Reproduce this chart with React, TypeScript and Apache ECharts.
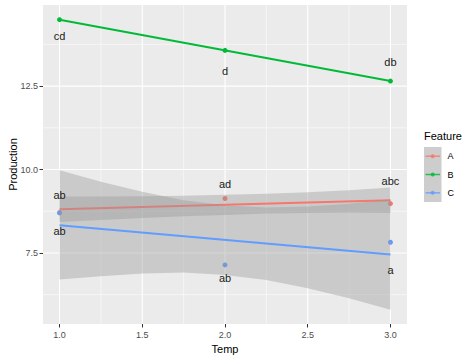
import React, { useEffect, useRef } from "react";
import * as echarts from "echarts";

// ---- data ----
const features = ["A", "B", "C"];
const featureColors = ["#F8766D", "#00BA38", "#619CFF"];
const temps = [1, 2, 3];
const prodA = [8.71, 9.13, 8.98];
const prodB = [14.49, 13.57, 12.65];
const prodC = [8.7, 7.14, 7.82];

// fitted (lm) line end points at Temp = 1 and 3
const fitX = [1, 3];
const fitA = [8.81, 9.08];
const fitB = [14.49, 12.65];
const fitC = [8.33, 7.45];

// confidence ribbons
const ribbonX = [1, 1.25, 1.5, 1.75, 2, 2.25, 2.5, 2.75, 3];
const ribbonAUpper = [9.19, 9.19, 9.2, 9.21, 9.24, 9.27, 9.32, 9.38, 9.46];
const ribbonALower = [8.43, 8.49, 8.55, 8.6, 8.64, 8.68, 8.7, 8.71, 8.7];
const ribbonCUpper = [9.98, 9.63, 9.33, 9.08, 8.93, 8.86, 8.89, 8.97, 9.1];
const ribbonCLower = [6.7, 6.8, 6.88, 6.91, 6.84, 6.69, 6.44, 6.14, 5.8];

// letter labels
const labelTexts = ["cd", "d", "db", "ab", "ad", "abc", "ab", "ab", "a"];
const labelX = [1, 2, 3, 1, 2, 3, 1, 2, 3];
const labelY = [14.01, 12.94, 13.22, 9.23, 9.56, 9.67, 8.16, 6.74, 6.99];

// axes
const xMin = 0.9;
const xMax = 3.1;
const yMin = 5.37;
const yMax = 14.93;
const xMajor = [1, 1.5, 2, 2.5, 3];
const xMinor = [1.25, 1.75, 2.25, 2.75];
const yMajor = [7.5, 10, 12.5];
const yMinor = [6.25, 8.75, 11.25, 13.75];

const FONT = '"Liberation Sans", Arial, sans-serif';

export default function App() {
  const ref = useRef<HTMLDivElement>(null);

  useEffect(() => {
    if (!ref.current) return;
    const chart = echarts.init(ref.current, undefined, { renderer: "svg" });

    const vGrid = [
      ...xMajor.map((v) => [v, 1]),
      ...xMinor.map((v) => [v, 0]),
    ];
    const hGrid = [
      ...yMajor.map((v) => [1, v, 1]),
      ...yMinor.map((v) => [1, v, 0]),
    ];

    const ribbonSeries = (upper: number[], lower: number[], z: number) => ({
      type: "custom",
      z,
      silent: true,
      data: [[2, upper[4]]],
      renderItem: (params: any, api: any) => {
        const pts: number[][] = [];
        ribbonX.forEach((x, i) => pts.push(api.coord([x, upper[i]])));
        for (let i = ribbonX.length - 1; i >= 0; i--) pts.push(api.coord([ribbonX[i], lower[i]]));
        return {
          type: "polygon",
          shape: { points: pts },
          style: { fill: "rgba(153,153,153,0.4)", stroke: "none" },
        };
      },
    });

    const fitSeries = (fit: number[], color: string, z: number) => ({
      type: "line",
      z,
      silent: true,
      showSymbol: false,
      data: fitX.map((x, i) => [x, fit[i]]),
      lineStyle: { color, width: 2 },
    });

    const pointSeries = (vals: number[], color: string, z: number) => ({
      type: "scatter",
      z,
      silent: true,
      symbolSize: 5,
      data: temps.map((t, i) => [t, vals[i]]),
      itemStyle: { color, opacity: 1 },
    });

    const legendGraphics: any[] = [
      {
        type: "text",
        left: 424,
        top: 130,
        style: { text: "Feature", font: `11px ${FONT}`, fill: "#000" },
      },
      {
        type: "rect",
        shape: { x: 424, y: 147, width: 17.5, height: 55 },
        style: { fill: "#CDCDCD" },
      },
    ];
    features.forEach((f, i) => {
      const cy = 147 + 9.17 * (2 * i + 1);
      legendGraphics.push(
        {
          type: "line",
          shape: { x1: 425.5, y1: cy, x2: 440, y2: cy },
          style: { stroke: featureColors[i], lineWidth: 1.5, opacity: 0.8 },
        },
        {
          type: "circle",
          shape: { cx: 432.7, cy, r: 2 },
          style: { fill: featureColors[i], opacity: 0.8 },
        },
        {
          type: "text",
          x: 447.5,
          y: cy,
          style: {
            text: f,
            font: `9px ${FONT}`,
            fill: "#000",
            verticalAlign: "middle",
            textVerticalAlign: "middle",
          },
        }
      );
    });

    chart.setOption({
      animation: false,
      grid: {
        left: 43,
        right: 67,
        top: 5,
        bottom: 37,
        show: true,
        backgroundColor: "#EBEBEB",
        borderWidth: 0,
        containLabel: false,
        outerBoundsMode: "none",
      },
      xAxis: {
        type: "value",
        min: xMin,
        max: xMax,
        name: "Temp",
        nameLocation: "middle",
        nameGap: 19,
        nameMoveOverlap: false,
        nameTextStyle: { fontFamily: FONT, fontSize: 11, color: "#000" },
        axisLine: { show: false },
        axisTick: { show: true, length: 3.5, lineStyle: { color: "#333", width: 1 }, customValues: xMajor },
        axisLabel: {
          fontFamily: FONT,
          fontSize: 9,
          color: "#4D4D4D",
          margin: 6,
          customValues: xMajor,
          formatter: (v: number) => v.toFixed(1),
        },
        splitLine: { show: false },
      },
      yAxis: {
        type: "value",
        min: yMin,
        max: yMax,
        name: "Production",
        nameLocation: "middle",
        nameGap: 25,
        nameMoveOverlap: false,
        nameTextStyle: { fontFamily: FONT, fontSize: 11, color: "#000" },
        axisLine: { show: false },
        axisTick: { show: true, length: 3.5, lineStyle: { color: "#333", width: 1 }, customValues: yMajor },
        axisLabel: {
          fontFamily: FONT,
          fontSize: 9,
          color: "#4D4D4D",
          margin: 5,
          customValues: yMajor,
          formatter: (v: number) => v.toFixed(1),
        },
        splitLine: { show: false },
      },
      graphic: legendGraphics,
      series: [
        {
          type: "custom",
          z: 1,
          silent: true,
          data: vGrid,
          renderItem: (params: any, api: any) => {
            const cs = params.coordSys;
            const x = api.coord([api.value(0), yMin])[0];
            return {
              type: "line",
              shape: { x1: x, y1: cs.y, x2: x, y2: cs.y + cs.height },
              style: { stroke: "#FFFFFF", lineWidth: api.value(1) ? 1.1 : 0.55 },
            };
          },
        },
        {
          type: "custom",
          z: 1,
          silent: true,
          data: hGrid,
          renderItem: (params: any, api: any) => {
            const cs = params.coordSys;
            const y = api.coord([xMin, api.value(1)])[1];
            return {
              type: "line",
              shape: { x1: cs.x, y1: y, x2: cs.x + cs.width, y2: y },
              style: { stroke: "#FFFFFF", lineWidth: api.value(2) ? 1.1 : 0.55 },
            };
          },
        },
        pointSeries(prodA, featureColors[0], 2),
        pointSeries(prodB, featureColors[1], 2),
        pointSeries(prodC, featureColors[2], 2.5),
        ribbonSeries(ribbonAUpper, ribbonALower, 3),
        fitSeries(fitA, featureColors[0], 4),
        fitSeries(fitB, featureColors[1], 4),
        ribbonSeries(ribbonCUpper, ribbonCLower, 5),
        fitSeries(fitC, featureColors[2], 6),
        {
          type: "custom",
          z: 7,
          silent: true,
          data: labelX.map((x, i) => [x, labelY[i]]),
          renderItem: (params: any, api: any) => {
            const p = api.coord([api.value(0), api.value(1)]);
            return {
              type: "text",
              x: p[0],
              y: p[1],
              style: {
                text: labelTexts[params.dataIndex],
                font: `11px ${FONT}`,
                fill: "#1A1A1A",
                align: "center",
                verticalAlign: "middle",
                textAlign: "center",
                textVerticalAlign: "middle",
              },
            };
          },
        },
      ],
    });

    return () => chart.dispose();
  }, []);

  return (
    <div
      ref={ref}
      style={{ position: "fixed", left: 0, top: 0, width: 474, height: 361, background: "#fff" }}
    />
  );
}
